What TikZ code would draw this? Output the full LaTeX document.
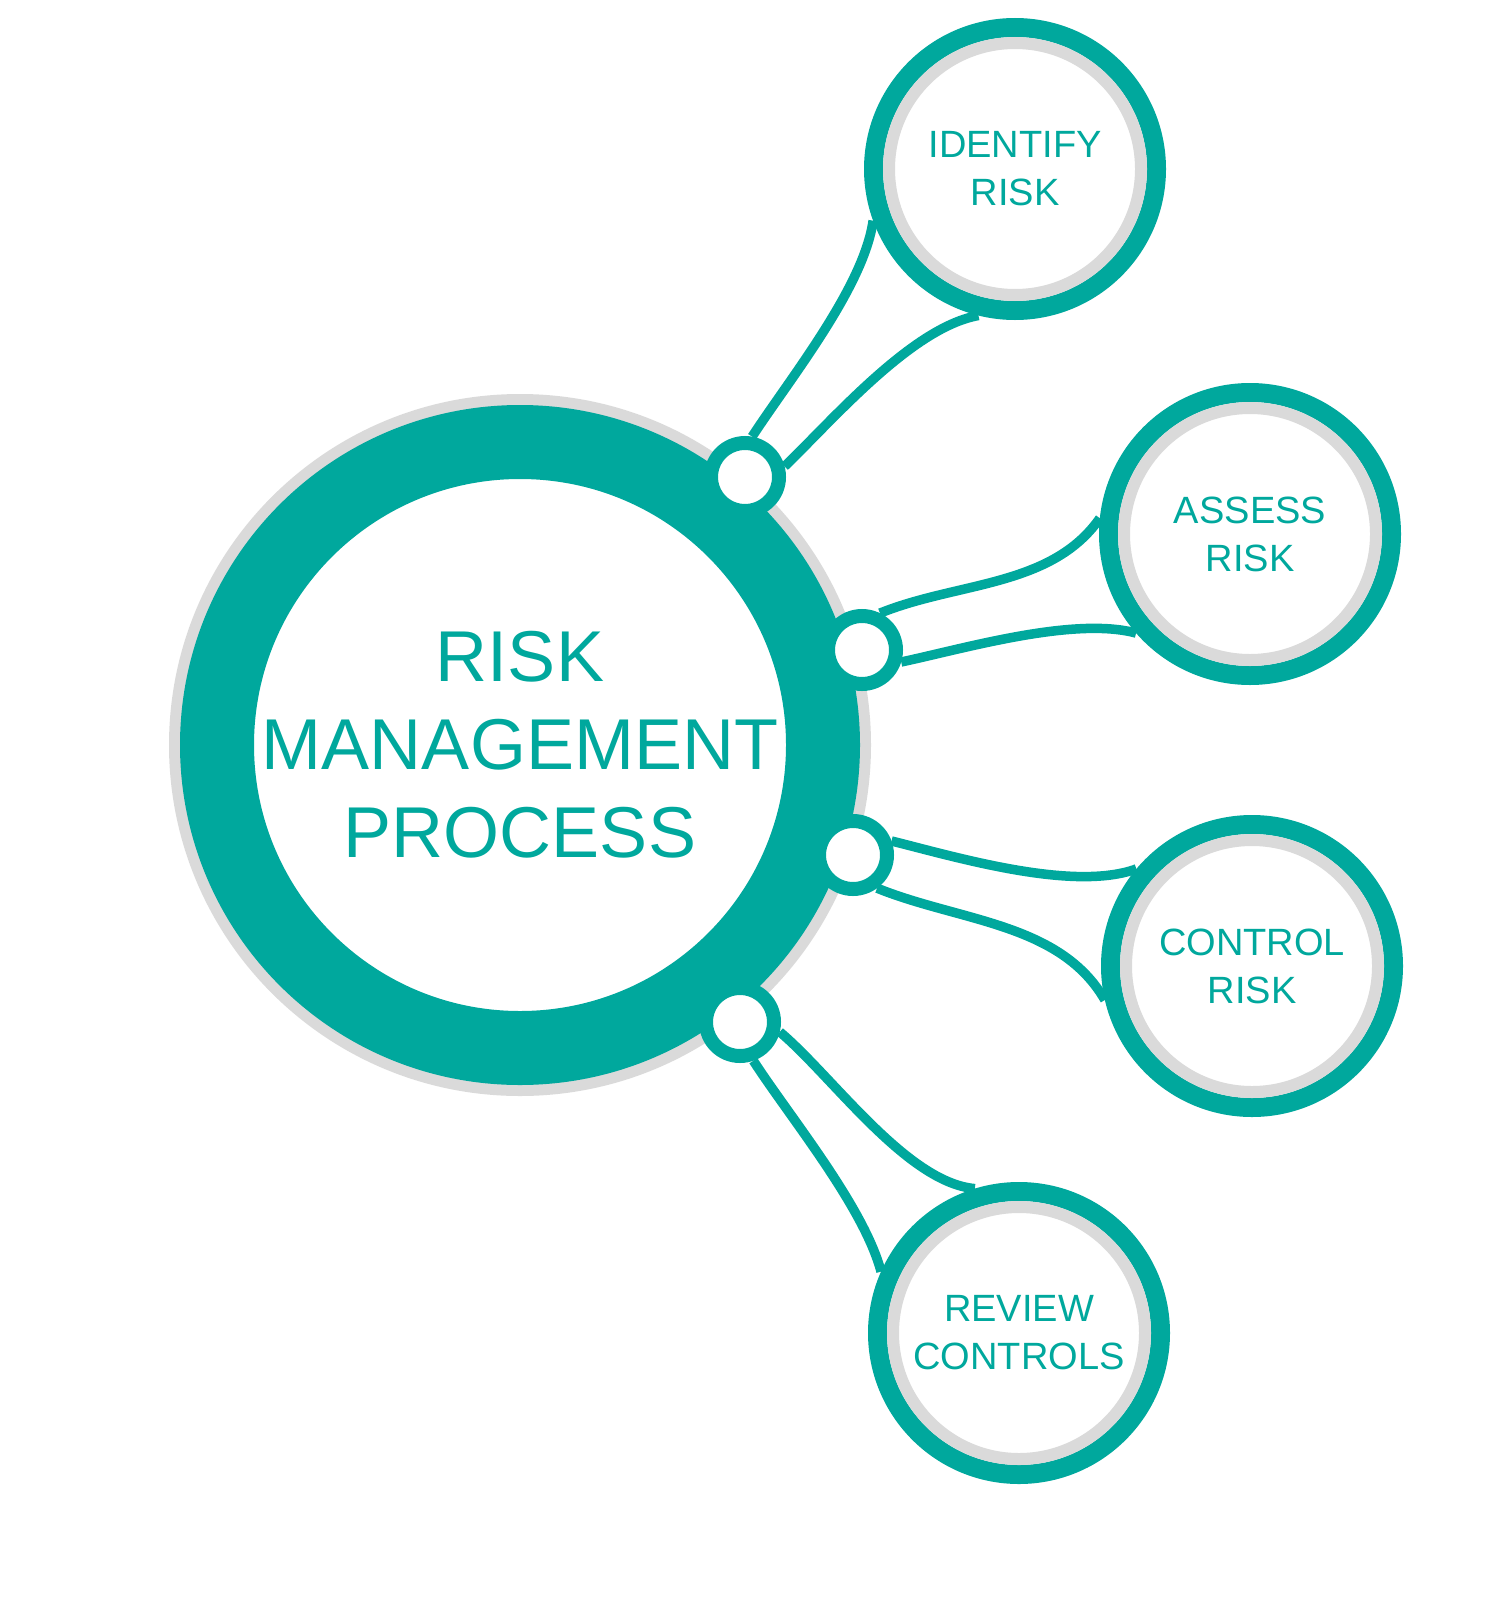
\documentclass[tikz,border=0pt]{standalone}
\usepackage{fontspec}
\setmainfont{Liberation Sans}

\definecolor{riskteal}{RGB}{0,168,157}
\definecolor{riskgray}{RGB}{218,218,218}

\begin{document}
\begin{tikzpicture}[x=1pt,y=1pt]
        % Define styles
        \tikzset{
            hub/.style={circle, draw=riskteal, line width=74pt, fill=white, minimum size=606pt, inner sep=0pt, text=riskteal, font=\fontsize{72}{88}\selectfont, align=center},
            port/.style={circle, draw=riskteal, line width=14pt, fill=white, minimum size=68pt, inner sep=0pt},
            task/.style={circle, draw=riskteal, line width=19pt, fill=white, minimum size=283pt, inner sep=0pt, text=riskteal, font=\fontsize{38}{48}\selectfont, align=center},
            link/.style={draw=riskteal, line width=9.5pt, looseness=0.7},
            rim/.style={draw=riskgray, line width=12pt}
        }
        \useasboundingbox (0,0) rectangle (1500,-1600);

        % Nodes
        \fill[riskgray] (520,-745) circle (351);
        \node[hub] (hub_node) at (520,-745) {RISK\\MANAGEMENT\\PROCESS};

        \node[port] (port_node_1) at (745,-477) {};
        \node[port] (port_node_2) at (862,-650) {};
        \node[port] (port_node_3) at (853,-855) {};
        \node[port] (port_node_4) at (740,-1022) {};

        \node[task] (step_node_1) at (1015,-169) {IDENTIFY\\RISK};
        \node[task] (step_node_2) at (1250,-534) {ASSESS\\RISK};
        \node[task] (step_node_3) at (1252,-966) {CONTROL\\RISK};
        \node[task] (step_node_4) at (1019,-1333) {REVIEW\\CONTROLS};

        \draw[rim] (step_node_1.center) circle (126);
        \draw[rim] (step_node_2.center) circle (126);
        \draw[rim] (step_node_3.center) circle (126);
        \draw[rim] (step_node_4.center) circle (126);

        % Links
        \draw[link] (port_node_1.80) to[out=57, in=-98] (step_node_1.200);
        \draw[link] (port_node_1.15) to[out=44, in=190] (step_node_1.256);
        \draw[link] (port_node_2.64) to[out=22, in=-125, looseness=0.9] (step_node_2.174);
        \draw[link] (port_node_2.-17) to[out=12, in=165] (step_node_2.221);
        \draw[link] (port_node_3.20) to[out=-14, in=200] (step_node_3.140);
        \draw[link] (port_node_3.-54) to[out=-22, in=120, looseness=0.9] (step_node_3.193);
        \draw[link] (port_node_4.-14) to[out=-40, in=175] (step_node_4.107);
        \draw[link] (port_node_4.-71) to[out=-57, in=105] (step_node_4.156);
\end{tikzpicture}
\end{document}
